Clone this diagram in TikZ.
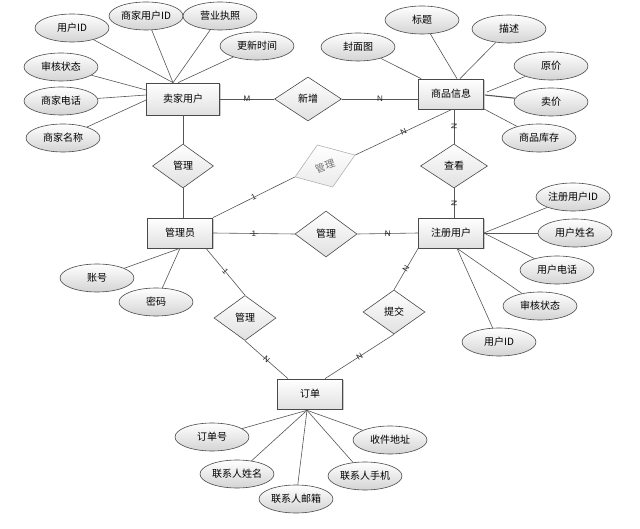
\documentclass[tikz,border=0pt]{standalone}
\usepackage{fontspec}
\newfontfamily\cjk{Noto Sans CJK SC}
\setmainfont{Liberation Sans}
\usetikzlibrary{shapes.geometric,shadows,calc}
\definecolor{linecol}{HTML}{555555}
\definecolor{bordercol}{HTML}{4A4A4A}
\tikzset{
  ent/.style={rectangle, draw=bordercol, line width=0.7pt, top color=white, bottom color=black!12,
    minimum width=65pt, minimum height=30pt, inner sep=0pt, font=\cjk\fontsize{10}{12}\selectfont,
    drop shadow={shadow xshift=1.2pt, shadow yshift=-1.2pt, fill=black!35, opacity=0.6}},
  attr/.style={ellipse, draw=bordercol, line width=0.6pt, top color=white, bottom color=black!17,
    minimum width=74pt, minimum height=28pt, inner sep=0pt, font=\cjk\fontsize{10}{12}\selectfont},
  rel/.style={diamond, draw=bordercol, line width=0.6pt, top color=white, bottom color=black!12,
    minimum width=63pt, minimum height=44pt, inner sep=0pt, font=\cjk\fontsize{10}{12}\selectfont},
  relgray/.style={rel, draw=black!30, text=black!55, top color=white, bottom color=black!8},
  conn/.style={draw=linecol, line width=0.6pt},
  cardlbl/.style={sloped, inner sep=0pt, font=\fontsize{8}{8}\selectfont, text=black!85}
}
\begin{document}
\begin{tikzpicture}[x=1pt,y=-1pt]
\useasboundingbox (0,0) rectangle (640,529);
% ---------- entities ----------
\node[ent, minimum width=73pt, minimum height=32pt] (seller) at (183,99) {卖家用户};
\node[ent] (goods) at (451,94) {商品信息};
\node[ent] (admin) at (180,233) {管理员};
\node[ent] (reg) at (451,233) {注册用户};
\node[ent] (order) at (310,394) {订单};
% ---------- relationships ----------
\node[rel, minimum width=67pt] (add) at (308,99) {新增};
\node[rel, minimum width=61pt] (m1) at (183,166) {管理};
\node[relgray, minimum width=64pt, minimum height=45pt, rotate=20] (m2) at (325,166) {管理};
\node[rel, minimum width=67pt] (view) at (454,166) {查看};
\node[rel, minimum width=62pt, minimum height=46pt] (m3) at (326,234) {管理};
\node[rel, minimum width=62pt, minimum height=45pt] (m4) at (245,318) {管理};
\node[rel, minimum width=62pt] (sub) at (394,312) {提交};
% ---------- attribute anchor points ----------
\coordinate (sTopA) at ($(seller.north)+(-10,0)$);
\coordinate (sTopB) at ($(seller.north)+(-5,0)$);
\coordinate (sL1) at ($(seller.west)+(0,-9)$);
\coordinate (sL2) at ($(seller.west)+(0,-4)$);
\coordinate (sL3) at ($(seller.west)+(0,1)$);
\coordinate (gT1) at ($(goods.north west)+(3,0)$);
\coordinate (gT2) at ($(goods.north)+(6,0)$);
\coordinate (gT3) at ($(goods.north)+(9,0)$);
\coordinate (gR1) at ($(goods.east)+(3,-2)$);
\coordinate (gR2) at ($(goods.east)+(1,1)$);
\coordinate (gR3) at ($(goods.south east)+(-1,-1)$);
\coordinate (rB) at ($(reg.south)+(6,0)$);
\coordinate (aSE) at ($(admin.south)+(26,0)$);
\coordinate (oL) at ($(order.north)+(-22,0)$);
\coordinate (oR) at ($(order.north)+(15,0)$);
\coordinate (oB) at ($(order.south)+(-3,1)$);
% ---------- attributes: seller ----------
\node[attr] (s1) at (72,28) {用户ID};
\node[attr] (s2) at (146,16) {商家用户ID};
\node[attr] (s3) at (220,16) {营业执照};
\node[attr] (s4) at (257,46) {更新时间};
\node[attr] (s5) at (61,67) {审核状态};
\node[attr] (s6) at (61,101) {商家电话};
\node[attr] (s7) at (63,138) {商家名称};
\draw[conn] (s1) -- (sTopA);
\draw[conn] (s2) -- (sTopA);
\draw[conn] (s3) -- (sTopA);
\draw[conn] (s4) -- (sTopB);
\draw[conn] (s5) -- (sL1);
\draw[conn] (s6) -- (sL2);
\draw[conn] (s7) -- (sL3);
% ---------- attributes: goods ----------
\node[attr] (g1) at (358,47) {封面图};
\node[attr] (g2) at (422,20) {标题};
\node[attr] (g3) at (509,29) {描述};
\node[attr] (g4) at (551,66) {原价};
\node[attr] (g5) at (551,102) {卖价};
\node[attr] (g6) at (539,138) {商品库存};
\draw[conn] (g1) -- (gT1);
\draw[conn] (g2) -- (gT2);
\draw[conn] (g3) -- (gT3);
\draw[conn] (g4) -- (gR1);
\draw[conn, line width=1.1pt] (g5) -- (gR2);
\draw[conn] (g6) -- (gR3);
% ---------- attributes: registered user ----------
\node[attr] (r1) at (573,197) {注册用户ID};
\node[attr] (r2) at (575,233) {用户姓名};
\node[attr] (r3) at (557,270) {用户电话};
\node[attr] (r4) at (540,306) {审核状态};
\node[attr] (r5) at (499,342) {用户ID};
\draw[conn] (r1) -- (reg.east);
\draw[conn] (r2) -- (reg.east);
\draw[conn] (r3) -- (reg.east);
\draw[conn] (r4) -- (rB);
\draw[conn] (r5) -- (rB);
% ---------- attributes: admin ----------
\node[attr] (a1) at (97,278) {账号};
\node[attr] (a2) at (156,302) {密码};
\draw[conn] (a1) -- (admin.south);
\draw[conn] (a2) -- (admin.south);
% ---------- attributes: order ----------
\node[attr] (o1) at (212,437) {订单号};
\node[attr] (o2) at (237,474) {联系人姓名};
\node[attr] (o3) at (296,499) {联系人邮箱};
\node[attr] (o4) at (365,476) {联系人手机};
\node[attr] (o5) at (390,440) {收件地址};
\draw[conn] (o1) -- (oB);
\draw[conn] (o2) -- (oB);
\draw[conn] (o3) -- (oB);
\draw[conn] (o4) -- (oB);
\draw[conn] (o5) -- (oB);
% ---------- relationship connectors ----------
\draw[conn] (seller.east) -- node[cardlbl]{M} (add.west);
\draw[conn] (add.east) -- node[cardlbl]{N} (add.east -| goods.west);
\draw[conn] (seller.south) -- (m1.north);
\draw[conn] (m1.south) -- (m1.south |- admin.north);
\draw[conn] ($(goods.south)+(1,0)$) -- node[cardlbl]{N} (m2.east);
\draw[conn] (m2.west) -- node[cardlbl]{1} (admin.north east);
\draw[conn] (view.north |- goods.south) -- node[cardlbl]{N} (view.north);
\draw[conn] (view.south) -- node[cardlbl]{N} (view.south |- reg.north);
\draw[conn] (admin.east) -- node[cardlbl]{1} (m3.west);
\draw[conn] (m3.east) -- node[cardlbl]{N} (reg.west);
\draw[conn] (aSE) -- node[cardlbl]{1} (m4.north);
\draw[conn] (m4.south) -- node[cardlbl]{N} (oL);
\draw[conn] (reg.south west) -- node[cardlbl]{N} (sub.north);
\draw[conn] (sub.south) -- node[cardlbl]{N} (oR);
\end{tikzpicture}
\end{document}
